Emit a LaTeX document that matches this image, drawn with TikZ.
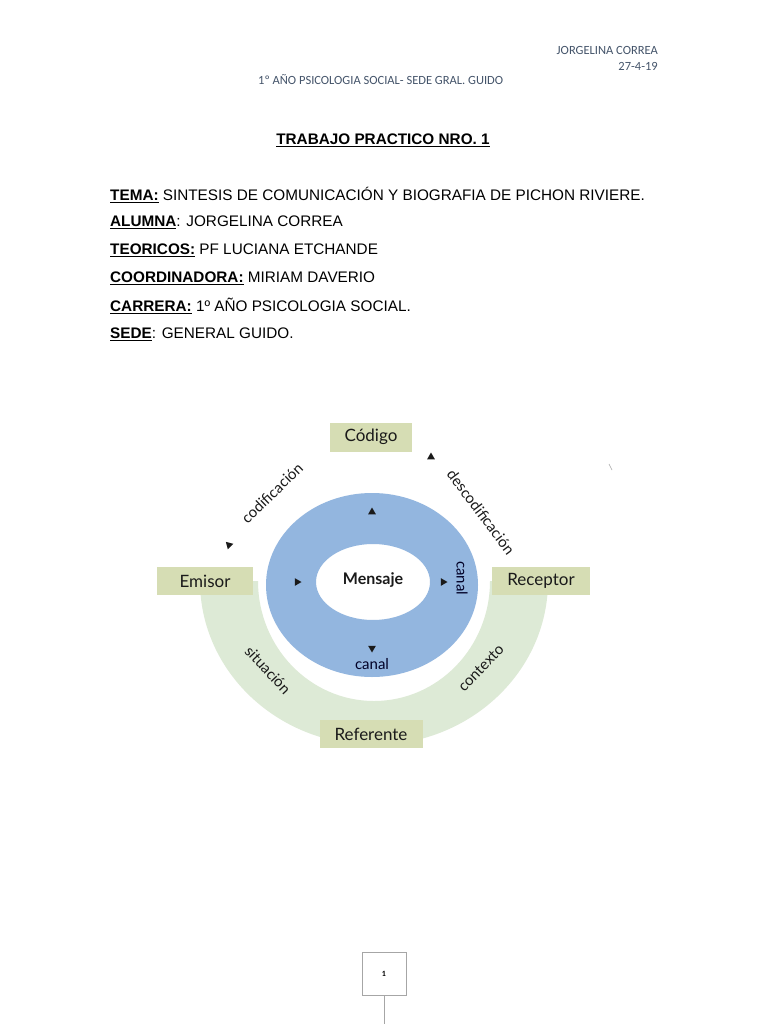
\documentclass[tikz,border=0pt]{standalone}
\usepackage{fontspec}
\setmainfont{Liberation Sans}
\newfontfamily\hdrfont{Carlito}
\newfontfamily\dgfont{Lato}
\usetikzlibrary{shapes.geometric}
\definecolor{hdr}{HTML}{44546A}
\definecolor{boxg}{HTML}{D6DDB4}
\definecolor{ringb}{HTML}{93B6DF}
\definecolor{arcg}{HTML}{DDEAD6}
\definecolor{ink}{HTML}{1A1A1A}
\tikzset{
 hdrtxt/.style={font=\hdrfont\fontsize{12.5}{14}\selectfont, text=hdr, inner sep=0},
 bodytxt/.style={font=\fontsize{15.3}{17}\selectfont, anchor=west, inner sep=0},
 gbox/.style={fill=boxg, inner sep=0, font=\dgfont\fontsize{17}{19}\selectfont, text=ink},
 dglabel/.style={font=\dgfont\fontsize{15}{17}\selectfont, text=ink, inner sep=0},
 tri/.style={regular polygon, regular polygon sides=3, fill=ink, inner sep=0, minimum size=9pt},
}
\newcommand{\lbl}[1]{\textbf{\underline{#1}}}
\begin{document}
\begin{tikzpicture}[x=1pt,y=-1pt]
\useasboundingbox (0,0) rectangle (768,1024);
\fill[white] (0,0) rectangle (768,1024);
% header
\node[hdrtxt, anchor=east] (h1) at (658,50) {JORGELINA CORREA};
\node[hdrtxt, anchor=east] (h2) at (658,66) {27-4-19};
\node[hdrtxt, anchor=west] (h3) at (258,80) {1º AÑO PSICOLOGIA SOCIAL- SEDE GRAL. GUIDO};
% title and body
\node[font=\fontsize{15.3}{17}\selectfont\bfseries, inner sep=0] (title) at (383,140) {\underline{TRABAJO PRACTICO NRO. 1}};
\node[bodytxt] (l1) at (110,195) {\lbl{TEMA:} SINTESIS DE COMUNICACIÓN Y BIOGRAFIA DE PICHON RIVIERE.};
\node[bodytxt] (l2) at (110,222) {\lbl{ALUMNA}: JORGELINA CORREA};
\node[bodytxt] (l3) at (110,250) {\lbl{TEORICOS:} PF LUCIANA ETCHANDE};
\node[bodytxt] (l4) at (110,278) {\lbl{COORDINADORA:} MIRIAM DAVERIO};
\node[bodytxt] (l5) at (110,306) {\lbl{CARRERA:} 1º AÑO PSICOLOGIA SOCIAL.};
\node[bodytxt] (l6) at (110,334) {\lbl{SEDE}: GENERAL GUIDO.};
% diagram: green lower arc
\fill[arcg] (200,581) arc[start angle=180, end angle=0, x radius=174, y radius=164]
  -- (490,581) arc[start angle=0, end angle=180, x radius=116, y radius=120] -- cycle;
% blue ring
\fill[ringb, even odd rule] (372,585) ellipse[x radius=106, y radius=92]
  (373,582) ellipse[x radius=57, y radius=38];
% boxes
\node[gbox, minimum width=82pt, minimum height=29pt] (cod) at (371,437) {Código};
\node[gbox, minimum width=96pt, minimum height=28pt] (emi) at (205,581) {Emisor};
\node[gbox, minimum width=98pt, minimum height=28pt] (rec) at (541,581) {Receptor};
\node[gbox, minimum width=103pt, minimum height=28pt] (ref) at (371,734) {Referente};
% labels
\node[dglabel, font=\dgfont\bfseries\fontsize{16}{18}\selectfont] (men) at (373,580) {Mensaje};
\node[dglabel, rotate=44] (codif) at (272,493) {codificación};
\node[dglabel, rotate=-53] (descod) at (481,512) {descodificación};
\node[dglabel, rotate=-90, text=black!85!blue] (can1) at (462,578) {canal};
\node[dglabel, text=black!85!blue] (can2) at (372,664) {canal};
\node[dglabel, rotate=-47] (sit) at (268,670) {situación};
\node[dglabel, rotate=46] (ctx) at (481,668) {contexto};
% triangles
\node[tri, rotate=45] (t1) at (229,545) {};
\node[tri, rotate=120] (t2) at (431,457) {};
\node[tri] (t3) at (372,512) {};
\node[tri, rotate=-90] (t4) at (297,582) {};
\node[tri, rotate=-90] (t5) at (443,582) {};
\node[tri, rotate=180] (t6) at (372,648) {};
% stray tick
\coordinate (s1) at (609,464);
\coordinate (s2) at (612,470);
\draw[gray!70, line width=0.6pt] (s1) -- (s2);
% page number box
\node[draw=gray!70, line width=0.9pt, minimum width=44pt, minimum height=43pt, inner sep=0, font=\hdrfont\bfseries\fontsize{8}{9}\selectfont] (pg) at (384,974) {1};
\coordinate (pgend) at (384,1024);
\draw[gray!70, line width=0.9pt] (pg.south) -- (pgend);
\end{tikzpicture}
\end{document}
